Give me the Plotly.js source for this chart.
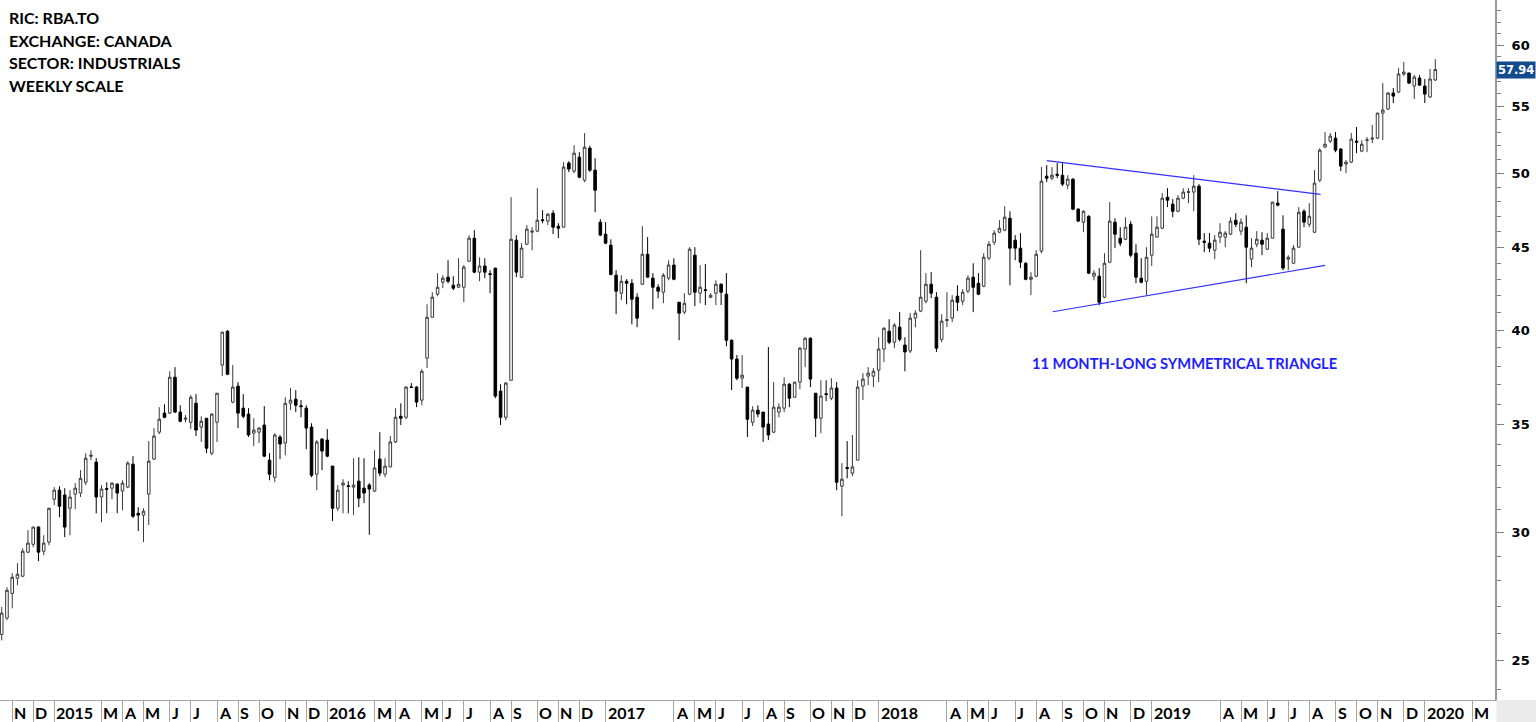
<!DOCTYPE html>
<html><head><meta charset="utf-8">
<script src="https://cdn.plot.ly/plotly-3.0.1.min.js"></script>
<style>html,body{margin:0;padding:0;background:#fff}#chart{width:1536px;height:722px}</style>
</head><body><div id="chart"></div>
<script>
// Weekly bars (dated by the Friday of each week), first bar week of 2014-10-24
const firstWeek = '2014-10-24';

const openPx = [
25.95,26.56,27.51,28.11,28.19,29.17,29.50,30.23,29.21,29.59,
31.45,31.86,31.64,31.05,31.68,31.73,32.22,33.43,33.16,31.55,
31.93,31.95,32.13,31.82,32.00,33.06,30.83,30.75,31.68,33.30,
34.60,35.55,35.55,37.41,35.60,35.24,35.09,36.05,34.85,35.29,
33.58,35.09,38.06,39.94,36.11,36.94,35.80,35.50,34.55,34.60,
34.95,33.25,32.45,34.36,34.07,36.05,36.26,35.92,35.80,34.85,
32.59,34.26,34.21,32.97,31.05,32.09,32.06,32.00,32.27,31.95,
32.09,31.82,33.30,32.59,32.93,34.12,35.39,35.34,36.90,36.89,
36.21,38.44,40.74,42.10,42.82,43.13,42.64,42.52,42.52,44.12,
45.59,43.44,43.82,43.34,43.69,36.68,35.34,37.25,45.46,43.13,
45.20,45.98,46.05,46.80,46.71,47.24,46.37,46.31,50.73,50.15,
51.16,49.51,51.82,50.22,46.64,45.85,45.14,43.25,42.16,42.88,
42.76,41.92,42.70,44.56,43.07,42.52,42.22,43.07,43.88,41.62,
41.04,42.10,44.50,42.16,42.36,41.92,42.16,42.70,42.10,39.43,
38.39,37.36,36.89,35.09,35.70,35.60,35.00,34.60,35.60,35.80,
37.04,36.36,37.15,38.94,39.54,36.57,35.29,36.54,36.31,36.84,
32.04,32.90,32.64,33.25,36.94,37.47,37.47,37.79,38.94,39.94,
39.32,40.17,39.16,38.83,40.69,41.10,41.68,42.70,41.92,39.48,
40.55,40.69,41.98,41.68,42.28,43.13,42.76,42.58,44.31,45.33,
45.98,46.11,46.90,45.46,44.95,43.99,43.00,43.19,44.76,49.79,
49.65,49.93,49.86,49.16,49.58,47.51,46.64,47.03,43.19,43.19,
41.92,44.06,46.64,45.59,45.52,46.50,44.63,43.07,42.88,44.50,
45.66,46.24,48.33,47.85,47.37,48.26,48.66,48.68,49.09,45.40,
45.27,44.82,45.66,45.66,45.85,46.77,46.05,46.31,44.25,45.20,
45.46,44.88,45.59,47.92,46.18,44.25,43.99,45.01,47.37,46.50,
45.98,49.51,51.89,52.34,52.56,51.75,50.66,50.80,52.34,51.60,
52.40,52.49,52.56,54.47,54.78,56.04,56.12,57.58,57.66,56.60,
57.25,56.60,55.73,57.09];

const highPx = [
26.98,27.75,28.31,28.72,29.33,30.10,30.25,30.27,29.88,31.07,
32.00,32.04,31.95,31.86,32.18,32.78,33.58,33.72,33.34,32.09,
32.22,32.22,32.18,32.31,33.20,33.44,31.10,31.05,34.16,34.80,
35.85,36.00,37.73,37.95,35.95,35.45,36.47,36.52,35.39,35.30,
35.55,36.58,39.90,40.00,38.06,37.15,36.52,35.80,35.29,34.85,
35.90,33.58,34.55,34.46,36.36,36.84,36.73,36.21,35.95,35.04,
34.21,34.31,34.75,32.98,32.09,32.36,32.27,33.34,33.39,33.34,
32.18,33.72,34.60,33.34,34.41,35.80,36.05,36.94,37.10,36.94,
37.84,41.50,42.22,43.38,43.25,44.18,43.19,44.31,43.88,45.79,
46.11,44.37,44.31,43.56,43.70,37.04,37.15,48.33,45.79,45.27,
46.44,46.31,48.95,47.44,47.24,47.44,46.57,50.80,50.87,52.04,
51.52,52.94,52.00,51.08,46.84,46.64,45.52,43.56,43.25,43.01,
43.01,42.16,46.37,45.66,43.38,42.70,43.38,44.18,44.31,41.64,
42.16,45.01,45.01,43.88,43.94,42.16,42.94,42.76,43.38,39.48,
38.61,38.61,36.90,35.90,35.95,35.62,39.05,37.15,36.05,37.41,
37.10,37.16,39.05,39.60,39.60,36.58,37.25,37.25,37.36,37.15,
33.11,34.16,34.46,37.25,37.63,37.95,37.90,39.60,40.17,40.63,
40.40,41.04,39.60,40.98,41.15,44.82,43.38,43.44,42.22,40.92,
42.22,42.04,42.64,42.40,43.25,43.99,43.38,44.63,45.40,46.11,
46.77,47.71,47.37,45.79,45.92,44.06,43.44,44.82,50.44,50.58,
50.44,50.73,50.73,49.86,49.65,47.58,47.44,47.10,43.56,43.69,
44.63,47.99,46.90,46.31,46.97,46.71,45.20,44.31,45.01,47.03,
47.03,48.61,48.95,48.19,48.47,48.95,48.95,49.86,49.23,45.92,
45.92,45.79,46.57,46.05,46.97,47.24,46.90,47.10,45.59,46.05,
45.98,45.92,48.00,48.74,47.10,44.50,45.14,47.65,47.51,47.92,
50.22,51.82,53.02,52.94,53.02,51.82,50.94,52.94,53.40,52.41,
52.64,53.55,54.48,56.84,56.12,56.44,58.06,58.57,57.67,57.49,
57.49,57.17,57.99,58.81];

const lowPx = [
25.73,26.48,26.93,27.83,28.15,29.13,29.38,28.80,29.05,29.46,
31.19,30.66,29.80,29.88,31.01,31.55,32.09,33.25,30.83,30.44,
30.83,31.45,30.83,30.96,31.95,30.62,30.06,29.59,30.32,33.25,
34.50,35.29,35.50,35.55,35.09,35.09,34.75,34.41,34.12,33.58,
33.48,34.12,37.47,37.52,36.05,34.80,35.29,34.36,33.92,34.07,
33.39,32.31,32.22,33.30,33.48,35.70,35.60,35.34,33.77,32.45,
31.86,32.78,33.39,30.49,30.92,30.83,30.83,30.75,31.10,31.28,
29.90,31.77,32.50,32.45,32.92,34.07,34.95,35.24,36.84,35.85,
35.95,37.90,40.72,41.98,42.46,42.76,42.34,42.46,41.62,44.06,
43.38,42.88,43.07,42.16,36.31,34.95,35.19,37.24,43.13,43.07,
45.14,44.82,45.98,46.57,46.44,45.85,45.59,46.30,50.08,50.01,
49.65,49.37,50.10,47.30,45.72,45.20,43.25,40.92,41.74,41.50,
40.34,40.17,42.68,43.12,41.21,41.86,41.56,42.94,42.94,39.43,
40.92,42.04,41.39,41.56,41.45,41.86,41.45,41.45,39.10,36.73,
37.25,36.84,34.36,34.90,35.34,34.12,34.21,34.55,35.34,35.60,
35.85,36.35,36.78,37.95,36.89,34.36,34.55,36.16,36.21,31.86,
30.70,32.40,32.50,33.24,36.21,36.99,36.89,37.15,38.23,39.21,
38.99,39.37,37.73,38.72,40.17,41.04,41.56,41.86,38.78,39.32,
40.17,40.46,41.10,41.45,42.16,41.04,42.04,42.52,44.18,45.14,
45.92,46.05,42.64,44.18,43.69,42.94,42.04,43.13,44.63,49.37,
49.51,49.65,49.09,48.88,47.44,46.64,45.98,43.32,42.94,41.45,
41.86,44.00,44.95,45.08,45.46,44.37,42.76,42.76,42.04,43.82,
45.65,46.18,47.65,46.97,47.30,48.19,47.92,47.37,45.14,44.69,
44.69,44.25,45.27,45.01,45.79,46.31,45.79,42.76,43.75,45.01,
44.50,44.82,45.58,47.71,43.56,43.56,43.98,45.00,46.31,46.31,
45.92,49.37,51.82,52.19,51.52,50.15,50.01,50.73,51.45,51.52,
51.52,52.19,52.49,52.41,54.70,55.25,56.04,57.41,56.76,55.57,
56.60,55.25,55.65,57.01];

const closePx = [
26.75,27.63,28.15,28.27,29.21,29.55,30.23,29.17,29.55,31.05,
31.86,31.14,30.23,31.55,31.95,32.40,33.34,33.48,31.55,31.91,
31.90,32.18,31.73,32.18,33.11,30.70,30.75,30.92,33.20,34.41,
35.24,35.34,37.41,35.60,35.14,35.29,36.36,34.70,35.14,33.82,
35.50,36.57,39.89,37.57,36.89,35.55,35.39,34.46,34.70,34.80,
33.44,32.59,34.46,34.02,36.05,36.21,35.95,35.88,34.80,32.54,
34.12,33.68,33.44,31.05,31.86,32.18,32.03,32.09,31.50,31.73,
31.91,32.88,32.64,32.97,34.12,35.34,35.29,36.89,36.87,36.11,
37.73,40.74,41.92,42.52,43.07,42.88,42.46,42.70,43.75,45.59,
43.44,43.82,43.44,43.30,36.42,35.34,37.10,45.52,43.44,44.95,
46.18,46.05,46.77,46.75,47.17,46.31,46.24,50.44,50.30,51.45,
49.72,51.89,50.22,48.81,45.79,45.27,43.30,42.28,42.88,42.76,
41.80,40.69,44.56,43.13,42.52,42.28,43.25,43.88,43.00,40.98,
41.56,44.88,42.22,42.52,42.33,42.04,42.70,42.22,39.43,38.39,
37.36,37.52,35.24,35.70,35.50,34.85,34.46,35.85,35.85,37.04,
36.31,37.15,38.99,39.54,37.31,35.29,36.42,36.50,36.84,32.22,
32.36,32.86,32.93,36.89,37.31,37.63,37.73,38.94,40.11,39.32,
40.29,39.48,38.78,40.69,40.98,41.92,42.70,42.16,38.99,40.52,
40.60,41.74,41.62,42.22,43.07,42.52,42.10,44.37,45.20,45.92,
46.24,46.97,44.95,44.95,44.06,43.00,43.13,44.56,49.44,49.65,
49.86,49.86,49.23,49.58,47.51,46.71,47.37,43.38,43.38,41.62,
43.99,46.71,45.85,45.27,46.31,44.50,43.13,42.82,44.37,45.85,
46.31,48.26,48.12,47.37,48.26,48.68,48.70,49.09,45.52,45.33,
44.95,45.46,45.98,45.92,46.71,46.50,46.64,45.01,44.95,45.52,
45.20,45.59,47.99,47.78,43.69,44.37,44.95,47.30,46.64,47.03,
49.30,51.67,52.11,52.71,51.67,50.51,50.80,52.49,52.26,52.11,
52.43,52.56,54.47,54.70,56.04,55.80,57.58,57.74,56.84,57.33,
56.68,55.96,57.17,57.94];

// Triangle trendlines
const triUpperDates = ['2018-08-17', '2019-08-17'];
const triUpperPrices = [50.90, 48.52];
const triLowerDates = ['2018-08-25', '2019-08-23'];
const triLowerPrices = [41.06, 43.86];

// Axis labels
const priceTicks = [25, 30, 35, 40, 45, 50, 55, 60];
const priceMinorTicks = [24,26,27,28,29,31,32,33,34,36,37,38,39,41,42,43,44,46,47,48,49,51,52,53,54,56,57,58,59,61,62,63];
const monthInitials = ['J','F','M','A','M','J','J','A','S','O','N','D'];
const hiddenMonths = ['2015-02','2016-02','2017-02','2017-03','2018-02','2018-03','2019-02','2019-03','2020-02'];
const headerLines = ['RIC: RBA.TO', 'EXCHANGE: CANADA', 'SECTOR: INDUSTRIALS', 'WEEKLY SCALE'];
const patternLabel = '11 MONTH-LONG SYMMETRICAL TRIANGLE';

function addDays(iso, n) {
  const d = new Date(iso + 'T00:00:00Z');
  d.setUTCDate(d.getUTCDate() + n);
  return d.toISOString().slice(0, 10);
}
const dates = closePx.map((_, i) => addDays(firstWeek, 7 * i));

// month separators at the first weekly bar of each month (axis calendar)
const sepDates = [], sepText = [];
let prev = firstWeek;
for (let i = 1; ; i++) {
  const d = addDays(firstWeek, 7 * i);
  if (d >= '2020-04-01') break;
  if (d.slice(0, 7) !== prev.slice(0, 7) && hiddenMonths.indexOf(d.slice(0, 7)) < 0) {
    const m = parseInt(d.slice(5, 7), 10);
    sepDates.push(d);
    sepText.push(m === 1 ? d.slice(0, 4) : monthInitials[m - 1]);
  }
  prev = d;
}

const traces = [
  {
    type: 'candlestick', x: dates, open: openPx, high: highPx, low: lowPx, close: closePx,
    increasing: {line: {color: '#3a3a3a', width: 1}, fillcolor: '#ffffff'},
    decreasing: {line: {color: '#000000', width: 1}, fillcolor: '#000000'},
    whiskerwidth: 0, showlegend: false, hoverinfo: 'skip'
  },
  {type: 'scatter', mode: 'lines', x: triUpperDates, y: triUpperPrices,
   line: {color: '#3030ff', width: 1.2}, showlegend: false, hoverinfo: 'skip'},
  {type: 'scatter', mode: 'lines', x: triLowerDates, y: triLowerPrices,
   line: {color: '#3030ff', width: 1.2}, showlegend: false, hoverinfo: 'skip'}
];

const annotations = [];
headerLines.forEach((t, i) => annotations.push({
  text: '<b>' + t + '</b>', xref: 'paper', yref: 'paper', x: 0, y: 1,
  xanchor: 'left', yanchor: 'middle', xshift: 7, yshift: -(17.5 + 22.6 * i),
  showarrow: false, font: {family: 'Lato, sans-serif', size: 16, color: '#000'}
}));
sepDates.forEach((d, i) => annotations.push({
  text: '<b>' + sepText[i] + '</b>', xref: 'x', yref: 'paper', x: d, y: 0,
  xanchor: 'left', yanchor: 'top', xshift: 0, yshift: -1,
  showarrow: false, font: {family: 'Lato, sans-serif', size: 16, color: '#000'}
}));
annotations.push({
  text: '<b>' + patternLabel + '</b>', xref: 'x', yref: 'y', x: '2019-02-17', y: Math.log10(38.2),
  xanchor: 'center', yanchor: 'middle', showarrow: false,
  font: {family: 'Lato, sans-serif', size: 14.7, color: '#1e1eff'}
});
annotations.push({
  text: '<b>' + closePx[closePx.length - 1].toFixed(2) + '</b>', xref: 'paper', yref: 'y',
  x: 1, y: Math.log10(closePx[closePx.length - 1]), xanchor: 'left', yanchor: 'middle', xshift: 1,
  showarrow: false, bgcolor: '#134b8c', borderpad: 1,
  font: {family: 'DejaVu Sans, sans-serif', size: 11.5, color: '#ffffff'}
});

const layout = {
  width: 1536, height: 722,
  margin: {l: 0, r: 41, t: 0, b: 22, pad: 0},
  paper_bgcolor: '#ffffff', plot_bgcolor: '#ffffff',
  showlegend: false,
  xaxis: {
    type: 'date', range: ['2014-10-21 17:28', '2020-04-05 14:00'],
    showgrid: false, zeroline: false, showline: true, linecolor: '#a6a6a6', linewidth: 1,
    ticks: 'outside', ticklen: 22, tickwidth: 1, tickcolor: '#a6a6a6',
    tickmode: 'array', tickvals: sepDates, showticklabels: false,
    rangeslider: {visible: false}, fixedrange: true
  },
  yaxis: {
    type: 'log', side: 'right', range: [Math.log10(23.64), Math.log10(63.97)],
    showgrid: false, zeroline: false, showline: true, linecolor: '#9a9a9a', linewidth: 2,
    ticks: 'outside', ticklen: 7, tickwidth: 1, tickcolor: '#808080',
    tickmode: 'array', tickvals: priceTicks, ticktext: priceTicks.map(String),
    ticklabelstandoff: 5,
    tickfont: {family: 'DejaVu Sans, sans-serif', size: 13, color: '#000', weight: 'bold'},
    minor: {tickmode: 'array', tickvals: priceMinorTicks, ticks: 'outside', ticklen: 4,
            tickwidth: 1, tickcolor: '#808080', showgrid: false},
    fixedrange: true
  },
  shapes: [{type: 'rect', xref: 'paper', yref: 'paper', x0: 1.001, x1: 1.1, y0: 0, y1: -0.1,
            fillcolor: '#ebebeb', line: {width: 0}}],
  annotations: annotations
};

Plotly.newPlot('chart', traces, layout, {displayModeBar: false, staticPlot: true});
</script></body></html>
